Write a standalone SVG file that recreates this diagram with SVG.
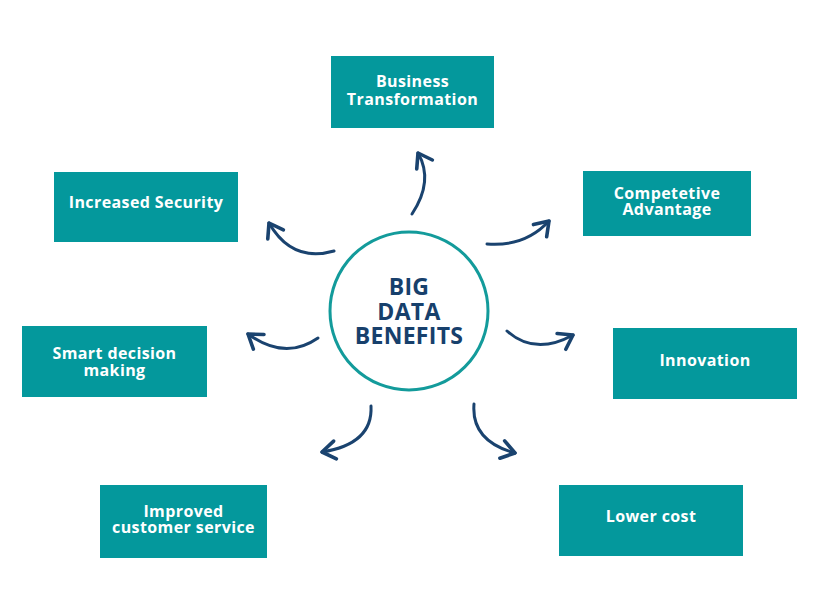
<svg xmlns="http://www.w3.org/2000/svg" width="820" height="615" viewBox="0 0 820 615">
  <defs>
    <style>
      .box { fill: #04989c; }
      .lbl { font-family: "Open Sans", "Liberation Sans", sans-serif; font-weight: 700; font-size: 16px; fill: #ffffff; text-anchor: middle; letter-spacing: 0.4px; }
      .hub { fill: #ffffff; stroke: #139b9b; stroke-width: 3; }
      .hubtxt { font-family: "Open Sans", "Liberation Sans", sans-serif; font-weight: 700; font-size: 23px; fill: #17406c; text-anchor: middle; letter-spacing: 0.3px; }
      .arr { fill: none; stroke: #1a436f; stroke-width: 3; stroke-linecap: round; marker-end: url(#head); }
    </style>
    <marker id="head" markerUnits="userSpaceOnUse" markerWidth="24" markerHeight="24" viewBox="-14 -10 18 20" refX="0" refY="0" orient="auto">
      <path d="M -11 -7.5 L 0 0 L -11 7.5" fill="none" stroke="#1a436f" stroke-width="3" stroke-linecap="round" stroke-linejoin="round"/>
    </marker>
  </defs>
  <rect width="820" height="615" fill="#ffffff"/>

  <g id="connectors">
    <path class="arr" d="M 412 214 Q 434 181 418 153"/>
    <path class="arr" d="M 334 251 Q 292 263 269 223"/>
    <path class="arr" d="M 318 338 Q 285 361 248 334"/>
    <path class="arr" d="M 487 244 Q 525 247 549 221"/>
    <path class="arr" d="M 507 331 Q 535 356 573 335"/>
    <path class="arr" d="M 371 406 Q 373 444 322 452"/>
    <path class="arr" d="M 474 404 Q 471 441 515 453"/>
  </g>

  <g id="hub">
    <circle class="hub" cx="409" cy="311" r="79"/>
    <text class="hubtxt" x="409" y="295">BIG</text>
    <text class="hubtxt" x="409" y="320">DATA</text>
    <text class="hubtxt" x="409" y="344">BENEFITS</text>
  </g>

  <g id="business-transformation">
    <rect class="box" x="331" y="56" width="163" height="72"/>
    <text class="lbl" x="412.5" y="87">Business</text>
    <text class="lbl" x="412.5" y="105">Transformation</text>
  </g>

  <g id="increased-security">
    <rect class="box" x="54" y="172" width="184" height="70"/>
    <text class="lbl" x="146" y="208">Increased Security</text>
  </g>

  <g id="competetive-advantage">
    <rect class="box" x="583" y="171" width="168" height="65"/>
    <text class="lbl" x="667" y="199">Competetive</text>
    <text class="lbl" x="667" y="215">Advantage</text>
  </g>

  <g id="smart-decision-making">
    <rect class="box" x="22" y="326" width="185" height="71"/>
    <text class="lbl" x="114.5" y="359">Smart decision</text>
    <text class="lbl" x="114.5" y="376">making</text>
  </g>

  <g id="innovation">
    <rect class="box" x="613" y="328" width="184" height="71"/>
    <text class="lbl" x="705" y="366">Innovation</text>
  </g>

  <g id="improved-customer-service">
    <rect class="box" x="100" y="485" width="167" height="73"/>
    <text class="lbl" x="183.5" y="517">Improved</text>
    <text class="lbl" x="183.5" y="533">customer service</text>
  </g>

  <g id="lower-cost">
    <rect class="box" x="559" y="485" width="184" height="71"/>
    <text class="lbl" x="651" y="522">Lower cost</text>
  </g>
</svg>
